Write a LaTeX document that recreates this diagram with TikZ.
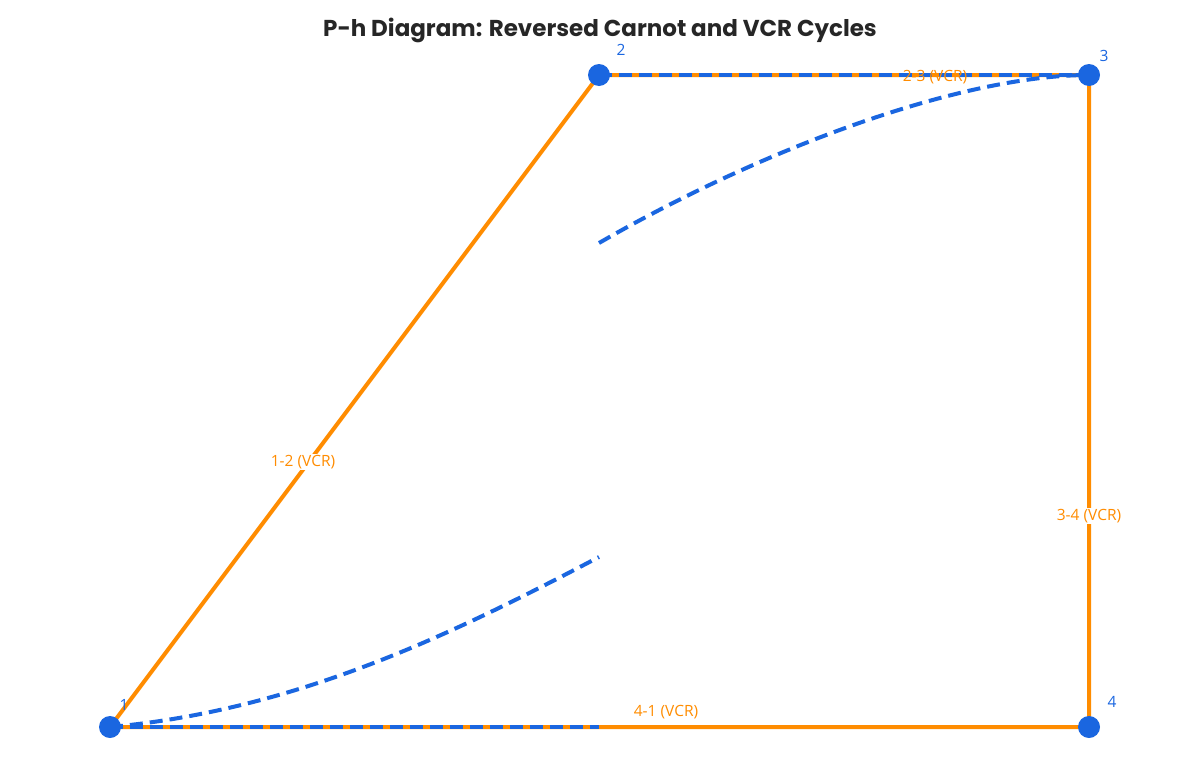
\documentclass[tikz,border=0pt]{standalone}
\usepackage{fontspec}
\setmainfont{Open Sans}
\newfontfamily\titlefont{Poppins}
\definecolor{org}{HTML}{FF8C00}
\definecolor{blu}{HTML}{1A66E0}
\begin{document}
\begin{tikzpicture}[x=1pt,y=-1pt,
  vcr/.style={draw=org,line width=4pt},
  car/.style={draw=blu,line width=4pt,dash pattern=on 13pt off 7pt},
  dot/.style={circle,fill=blu,minimum size=22pt,inner sep=0pt},
  lab/.style={text=org,font=\fontsize{15.5}{18}\selectfont},
  num/.style={text=blu,font=\fontsize{15.5}{18}\selectfont}]
\useasboundingbox (0,0) rectangle (1200,763);
\node[font=\titlefont\bfseries\fontsize{23}{27}\selectfont,text=black!85] at (600,30) {P-h Diagram: Reversed Carnot and VCR Cycles};
\coordinate (p1) at (110,727);
\coordinate (p2) at (599,75);
\coordinate (p3) at (1089,75);
\coordinate (p4) at (1089,727);
\coordinate (c1) at (599,727);
\coordinate (c2) at (599,557);
\coordinate (c3) at (599,243);
\draw[vcr] (p1) -- (p2) (p2) -- (p3) (p3) -- (p4) (p4) -- (p1);
\draw[car] (p1) -- (c1);
\draw[car] (p2) -- (p3);
\draw[car] (p1) .. controls (300,710) and (460,630) .. (c2);
\draw[car] (c3) .. controls (760,150) and (960,75) .. (p3);
\node[lab,fill=white,inner sep=1pt] (l12) at (303,462) {1-2 (VCR)};
\node[lab] (l23) at (935,77) {2-3 (VCR)};
\node[lab,fill=white,inner sep=1pt] (l34) at (1089,516) {3-4 (VCR)};
\node[lab] (l41) at (666,712) {4-1 (VCR)};
\node[dot] (n1) at (p1) {};
\node[dot] (n2) at (p2) {};
\node[dot] (n3) at (p3) {};
\node[dot] (n4) at (p4) {};
\node[num] at (124,705) {1};
\node[num] at (621,50) {2};
\node[num] at (1104,56) {3};
\node[num] at (1112,702) {4};
\end{tikzpicture}
\end{document}
